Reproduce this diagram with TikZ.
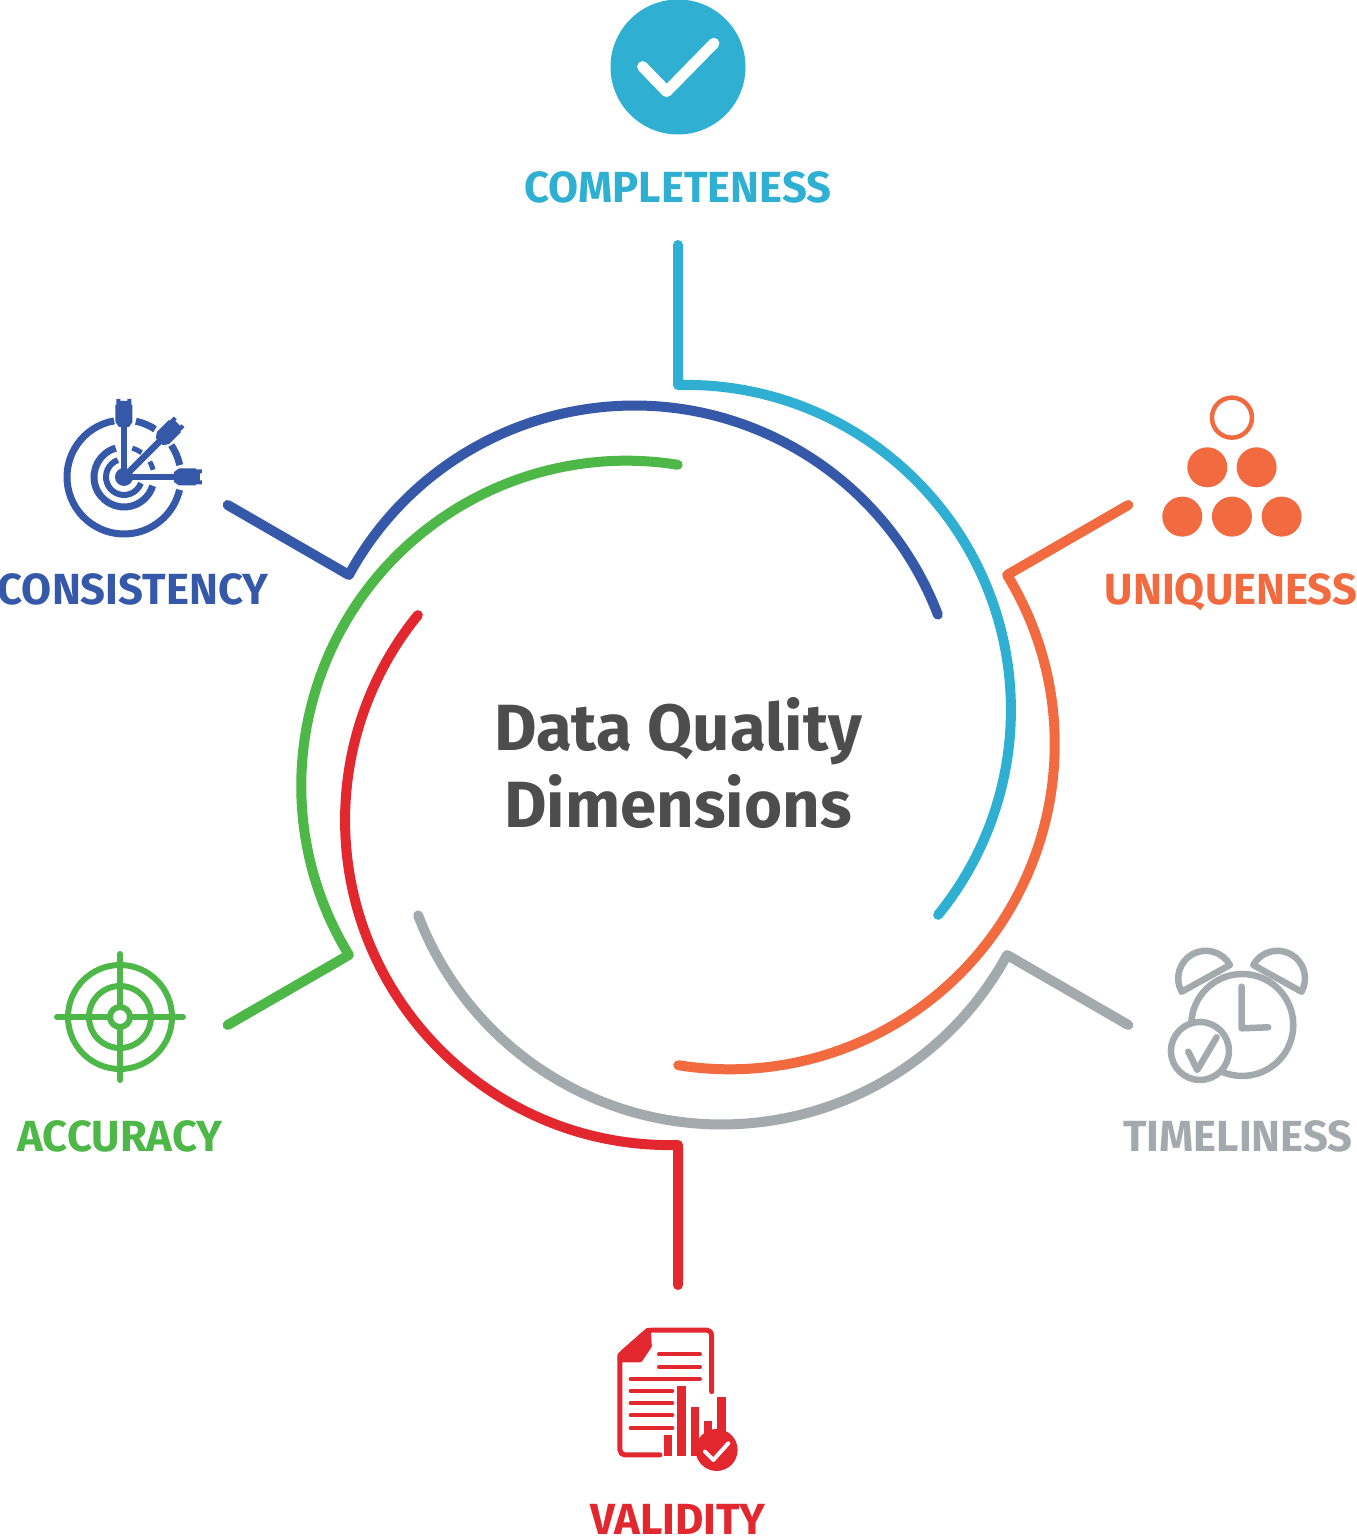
\documentclass[tikz,border=0pt]{standalone}
\usepackage{fontspec}
\setmainfont{Fira Sans}
\usepackage{xcolor}
\definecolor{complcol}{HTML}{2FB0D3}
\definecolor{uniqcol}{HTML}{F26A3F}
\definecolor{timecol}{HTML}{A3AAAE}
\definecolor{validcol}{HTML}{E2272E}
\definecolor{accurcol}{HTML}{4DB748}
\definecolor{consistcol}{HTML}{3558A8}
\definecolor{titlecol}{HTML}{4D4D4D}

\begin{document}
\begin{tikzpicture}[
    ringline/.style={line width=.1cm, line cap=round, line join=round},
    dimlabel/.style={font=\bfseries\fontsize{12.4}{14}\selectfont, inner sep=0pt, text height=.3cm, text depth=0pt},
    iconline/.style={line cap=round, line join=round},
    cropgrid/.style={x=.03333mm, y=-.03333mm}
]
\useasboundingbox (-6.78,-7.71) rectangle (6.79,7.65);

\node [font=\bfseries\fontsize{18.6}{22.1}\selectfont, text=titlecol, align=center] (title) at (0,.02) {Data Quality\\ Dimensions};

% ends of the six lines
\coordinate (complEnd) at (90:5.2);
\coordinate (complBend) at (90:3.8);
\coordinate (uniqEnd) at (30:5.2);
\coordinate (uniqBend) at (30:3.8);
\coordinate (timeEnd) at (-30:5.2);
\coordinate (timeBend) at (-30:3.8);
\coordinate (validEnd) at (-90:5.2);
\coordinate (validBend) at (-90:3.8);
\coordinate (accurEnd) at (-150:5.2);
\coordinate (accurBend) at (-150:3.8);
\coordinate (consistEnd) at (150:5.2);
\coordinate (consistBend) at (150:3.8);

\draw [ringline, consistcol] (consistEnd) -- (consistBend) arc[start angle=151.4, end angle=20.9, radius=3.25cm];
\draw [ringline, complcol] (complEnd) -- (complBend) arc[start angle=91.4, end angle=-39.1, radius=3.25cm];
\draw [ringline, accurcol] (accurEnd) -- (accurBend) arc[start angle=-148.6, end angle=-279.1, radius=3.25cm];
\draw [ringline, validcol] (validEnd) -- (validBend) arc[start angle=-88.6, end angle=-219.1, radius=3.25cm];
\draw [ringline, timecol] (timeEnd) -- (timeBend) arc[start angle=-28.6, end angle=-159.1, radius=3.25cm];
\draw [ringline, uniqcol] (uniqEnd) -- (uniqBend) arc[start angle=31.4, end angle=-99.1, radius=3.25cm];

% labels
\node [dimlabel, text=complcol] (complLabel) at (0,5.775) {COMPLETENESS};
\node [dimlabel, text=uniqcol] (uniqLabel) at (5.53,1.75) {UNIQUENESS};
\node [dimlabel, text=timecol] (timeLabel) at (5.6,-3.71) {TIMELINESS};
\node [dimlabel, text=validcol] (validLabel) at (0,-7.54) {VALIDITY};
\node [dimlabel, text=accurcol] (accurLabel) at (-5.58,-3.71) {ACCURACY};
\node [dimlabel, text=consistcol] (consistLabel) at (-5.45,1.75) {CONSISTENCY};

% completeness icon
\node [circle, fill=complcol, minimum size=1.35cm, inner sep=0pt] (complIcon) at (0,6.98) {};
\begin{scope}[shift={(-1.78,7.65)}, cropgrid]
\draw [iconline, white, line width=.11cm] (428,200) -- (500,275) -- (642,130);
\end{scope}

% uniqueness icon
\begin{scope}[shift={(3.22,3.85)}, cropgrid]
\draw [uniqcol, line width=.045cm] (696,113) circle[radius=.2cm];
\foreach \dotx/\doty in {622/262, 770/262, 547/410, 696/410, 845/410}
    \fill [uniqcol] (\dotx,\doty) circle[radius=.2cm];
\end{scope}

% timeliness icon
\begin{scope}[shift={(3.22,-1.65)}, cropgrid, iconline, timecol, line width=.065cm]
\draw (727,285) circle[radius=.51cm];
\draw (690,105) arc[start angle=29, end angle=209, radius=.276cm] -- cycle;
\draw (760,105) arc[start angle=151, end angle=-29, radius=.276cm] -- cycle;
\draw (725,170) -- (725,295) -- (805,292);
\draw [fill=white] (600,363) circle[radius=.29cm];
\draw (565,365) -- (592,420) -- (650,322);
\end{scope}

% validity icon
\begin{scope}[shift={(-.88,-5.45)}, cropgrid, iconline, validcol]
\draw [line width=.05cm, rounded corners=.05cm] (210,435) -- (90,435) -- (90,135) -- (175,60) -- (365,60) -- (365,245);
\filldraw [line width=.05cm] (90,150) -- (90,135) -- (175,60) -- (178,108) -- (150,150) -- cycle;
\foreach \liney/\linea/\lineb in {133/207/330, 171/207/330, 207/122/330, 243/122/247, 280/122/247, 316/122/247, 355/122/247}
    \draw [line width=.04cm] (\linea,\liney) -- (\lineb,\liney);
\foreach \barx/\bary in {222/375, 262/228, 302/290, 342/333, 382/260}
    \fill (\barx,\bary) rectangle ++(25,437-\bary);
\fill (380,420) circle[radius=.21cm];
\draw [white, line width=.04cm] (345,425) -- (370,450) -- (415,400);
\end{scope}

% accuracy icon
\begin{scope}[shift={(-5.58,-2.52)}, iconline, accurcol, line width=.06cm]
\draw (0,0) circle[radius=.52cm];
\draw (0,0) circle[radius=.31cm];
\draw (0,0) circle[radius=.10cm];
\draw (-.63,0) -- (-.10,0);
\draw (.10,0) -- (.63,0);
\draw (0,-.63) -- (0,-.10);
\draw (0,.10) -- (0,.63);
\end{scope}

% consistency icon
\begin{scope}[shift={(-5.54,2.88)}, consistcol]
\draw [line width=.07cm] (100:.57) arc[start angle=100, end angle=347, radius=.57cm];
\draw [line width=.07cm] (78:.57) arc[start angle=78, end angle=57, radius=.57cm];
\draw [line width=.07cm] (34:.57) arc[start angle=34, end angle=12, radius=.57cm];
\draw [line width=.07cm] (106:.30) arc[start angle=106, end angle=343, radius=.30cm];
\draw [line width=.05cm] (74:.30) arc[start angle=74, end angle=54, radius=.30cm];
\draw [line width=.05cm] (31:.30) arc[start angle=31, end angle=14, radius=.30cm];
\draw [line width=.06cm] (110:.18) arc[start angle=110, end angle=340, radius=.18cm];
\fill (0,0) circle[radius=.09cm];
\foreach \shot in {90,45,0} {
    \begin{scope}[rotate=\shot]
    \draw [line width=.065cm] (0,0) -- (.55,0);
    \fill (.50,.05) -- (.55,.085) -- (.72,.085) -- (.72,.075) -- (.78,.075) -- (.78,.035) -- (.76,.035) -- (.76,-.035) -- (.78,-.035) -- (.78,-.075) -- (.72,-.075) -- (.72,-.085) -- (.55,-.085) -- (.50,-.05) -- cycle;
    \end{scope}
}
\end{scope}

\end{tikzpicture}
\end{document}
